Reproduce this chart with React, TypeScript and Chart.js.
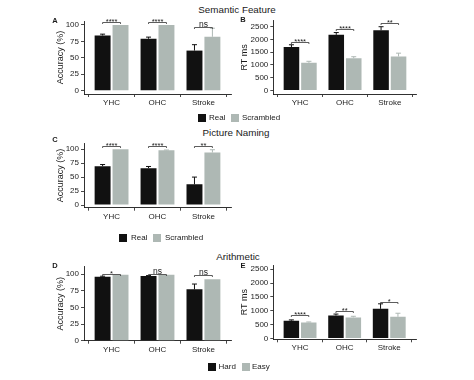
import React, { useEffect, useRef } from "react";
import { Chart, registerables } from "chart.js";
Chart.register(...registerables);

const FONT = '"Liberation Sans", Arial, Helvetica, sans-serif';
Chart.defaults.font.family = FONT;

const groups = ["YHC", "OHC", "Stroke"];
const accTicks = [0, 25, 50, 75, 100];
const rtTicks = [0, 500, 1000, 1500, 2000, 2500];

// A – Semantic Feature accuracy
const semAccReal = [84, 79, 61];
const semAccRealErr = [2, 2.5, 9];
const semAccScr = [100, 100, 82];
const semAccScrErr = [0, 0, 13];
const semAccSig = ["****", "****", "ns"];
const semAccSigY = [104, 104, 97];
// B – Semantic Feature RT
const semRtReal = [1700, 2180, 2360];
const semRtRealErr = [90, 90, 140];
const semRtScr = [1080, 1260, 1330];
const semRtScrErr = [60, 60, 130];
const semRtSig = ["****", "****", "**"];
const semRtSigY = [1910, 2400, 2630];
// C – Picture Naming accuracy
const picAccReal = [69.5, 66, 37];
const picAccRealErr = [3, 3, 13];
const picAccScr = [100, 98, 94];
const picAccScrErr = [0, 0.5, 5];
const picAccSig = ["****", "****", "**"];
const picAccSigY = [106.5, 106.5, 105];
// D – Arithmetic accuracy
const ariAccHard = [96, 97, 77];
const ariAccHardErr = [0.7, 0.7, 8];
const ariAccEasy = [99, 99, 92];
const ariAccEasyErr = [0, 0, 0];
const ariAccSig = ["*", "ns", "ns"];
const ariAccSigY = [100.5, 100.5, 98.5];
// E – Arithmetic RT
const ariRtHard = [640, 830, 1070];
const ariRtHardErr = [30, 50, 180];
const ariRtEasy = [580, 760, 780];
const ariRtEasyErr = [15, 40, 130];
const ariRtSig = ["****", "**", "*"];
const ariRtSigY = [840, 1000, 1310];

const DARK = "#111111";
const GRAY = "#aeb8b4";
const AXIS = "#1a1a1a";
const TXT = "#1e1e1e";

type PanelProps = {
  left: number; top: number; width: number; height: number;
  area: { l: number; t: number; r: number; b: number };
  yMin: number; yMax: number; yTicks: number[]; yTitle: string; titlePad: number;
  a: number[]; aErr: number[]; b: number[]; bErr: number[];
  sig: string[]; sigY: number[];
};

function Panel(p: PanelProps) {
  const ref = useRef<HTMLCanvasElement | null>(null);
  useEffect(() => {
    if (!ref.current) return;
    const vals = [p.a, p.b];
    const errs = [p.aErr, p.bErr];
    const colors = [DARK, GRAY];
    const overlay = {
      id: "overlay",
      afterDatasetsDraw(chart: any) {
        const ctx = chart.ctx;
        const ys = chart.scales.y;
        const metas = [chart.getDatasetMeta(0), chart.getDatasetMeta(1)];
        ctx.save();
        for (let d = 0; d < 2; d++) {
          metas[d].data.forEach((el: any, i: number) => {
            const e = errs[d][i];
            if (!e) return;
            const yTop = ys.getPixelForValue(vals[d][i] + e);
            ctx.strokeStyle = colors[d];
            ctx.lineWidth = 1;
            ctx.beginPath();
            ctx.moveTo(el.x, el.y);
            ctx.lineTo(el.x, yTop);
            ctx.moveTo(el.x - 2.5, yTop);
            ctx.lineTo(el.x + 2.5, yTop);
            ctx.stroke();
          });
        }
        for (let i = 0; i < groups.length; i++) {
          const x1 = metas[0].data[i].x;
          const x2 = metas[1].data[i].x;
          const y = Math.round(ys.getPixelForValue(p.sigY[i])) + 0.5;
          ctx.strokeStyle = "#333";
          ctx.lineWidth = 0.8;
          ctx.beginPath();
          ctx.moveTo(x1, y + 1.5);
          ctx.lineTo(x1, y);
          ctx.lineTo(x2, y);
          ctx.lineTo(x2, y + 1.5);
          ctx.stroke();
          const s = p.sig[i];
          const stars = s.indexOf("*") >= 0;
          ctx.fillStyle = "#222";
          ctx.textAlign = "center";
          ctx.textBaseline = "alphabetic";
          ctx.font = (stars ? "7.5px " : "8.5px ") + FONT;
          ctx.fillText(s, (x1 + x2) / 2, stars ? y + 1.8 : y - 1);
        }
        ctx.restore();
      },
    };
    const tickFont = { size: 8, family: FONT };
    const chart = new Chart(ref.current, {
      type: "bar",
      data: {
        datasets: [
          { data: groups.map((_, i) => ({ x: i + 1, y: p.a[i] })), backgroundColor: DARK, borderWidth: 0 },
          { data: groups.map((_, i) => ({ x: i + 1, y: p.b[i] })), backgroundColor: GRAY, borderWidth: 0 },
        ],
      } as any,
      options: {
        animation: false,
        responsive: false,
        maintainAspectRatio: false,
        events: [],
        layout: { padding: { left: 0, top: p.area.t, right: p.width - p.area.r, bottom: 0 } },
        plugins: { legend: { display: false }, tooltip: { enabled: false } },
        datasets: { bar: { categoryPercentage: 0.78, barPercentage: 0.89 } },
        scales: {
          x: {
            type: "linear",
            min: 0.4,
            max: 3.6,
            offset: false,
            afterBuildTicks: (s: any) => { s.ticks = groups.map((_, i) => ({ value: i + 1 })); },
            afterFit: (s: any) => { s.height = p.height - p.area.b; },
            ticks: {
              callback: (_v: any, i: number) => groups[i],
              autoSkip: false, maxRotation: 0, minRotation: 0, padding: 1, color: TXT, font: tickFont,
            },
            grid: { display: true, drawOnChartArea: false, drawTicks: true, tickLength: 3, color: AXIS, lineWidth: 0.8 },
            border: { display: true, color: AXIS, width: 0.9 },
          },
          y: {
            type: "linear",
            min: p.yMin,
            max: p.yMax,
            afterBuildTicks: (s: any) => { s.ticks = p.yTicks.map((v) => ({ value: v })); },
            afterFit: (s: any) => { s.width = p.area.l; },
            ticks: {
              callback: (_v: any, i: number) => String(p.yTicks[i]),
              autoSkip: false, padding: 2, color: TXT, font: tickFont,
            },
            title: { display: true, text: p.yTitle, color: "#1a1a1a", font: { size: 9, family: FONT }, padding: { top: p.titlePad, bottom: 0 } },
            grid: { display: true, drawOnChartArea: false, drawTicks: true, tickLength: 3, color: AXIS, lineWidth: 0.8 },
            border: { display: true, color: AXIS, width: 0.9 },
          },
        },
      } as any,
      plugins: [overlay],
    });
    return () => chart.destroy();
  }, []);
  return (
    <canvas
      ref={ref}
      width={p.width}
      height={p.height}
      style={{ position: "absolute", left: p.left, top: p.top, width: p.width, height: p.height }}
    />
  );
}

function Txt(props: { x: number; y: number; size: number; bold?: boolean; children: any; anchor?: string }) {
  const tr = props.anchor === "left" ? "translate(0,-50%)" : "translate(-50%,-50%)";
  return (
    <div
      style={{
        position: "absolute", left: props.x, top: props.y, transform: tr, fontSize: props.size,
        fontWeight: props.bold ? 700 : 400, whiteSpace: "nowrap", lineHeight: 1, color: "#1a1a1a",
      }}
    >
      {props.children}
    </div>
  );
}

function Sq(props: { x: number; y: number; color: string }) {
  return <div style={{ position: "absolute", left: props.x, top: props.y - 4, width: 8, height: 8, background: props.color }} />;
}

export default function App() {
  return (
    <div style={{ position: "fixed", left: 0, top: 0, width: 474, height: 380, background: "#fff", fontFamily: FONT, overflow: "hidden" }}>
      <Txt x={237} y={10} size={9.8}>Semantic Feature</Txt>
      <Txt x={236} y={133} size={9.8}>Picture Naming</Txt>
      <Txt x={238} y={256.5} size={9.8}>Arithmetic</Txt>

      <Panel left={0} top={0} width={240} height={108} area={{ l: 84, t: 21, r: 231, b: 94 }}
        yMin={-5} yMax={106} yTicks={accTicks} yTitle="Accuracy (%)" titlePad={55.5}
        a={semAccReal} aErr={semAccRealErr} b={semAccScr} bErr={semAccScrErr} sig={semAccSig} sigY={semAccSigY} />
      <Panel left={232} top={0} width={242} height={108} area={{ l: 41.3, t: 20.7, r: 184.7, b: 94 }}
        yMin={-145} yMax={2736} yTicks={rtTicks} yTitle="RT ms" titlePad={7.2}
        a={semRtReal} aErr={semRtRealErr} b={semRtScr} bErr={semRtScrErr} sig={semRtSig} sigY={semRtSigY} />
      <Panel left={0} top={125} width={240} height={100} area={{ l: 84, t: 18.3, r: 231, b: 82.7 }}
        yMin={-4.8} yMax={110.5} yTicks={accTicks} yTitle="Accuracy (%)" titlePad={55.5}
        a={picAccReal} aErr={picAccRealErr} b={picAccScr} bErr={picAccScrErr} sig={picAccSig} sigY={picAccSigY} />
      <Panel left={0} top={250} width={240} height={110} area={{ l: 84, t: 16.7, r: 231, b: 90.7 }}
        yMin={0} yMax={111} yTicks={accTicks} yTitle="Accuracy (%)" titlePad={55.5}
        a={ariAccHard} aErr={ariAccHardErr} b={ariAccEasy} bErr={ariAccEasyErr} sig={ariAccSig} sigY={ariAccSigY} />
      <Panel left={232} top={250} width={242} height={110} area={{ l: 41.3, t: 15, r: 184, b: 89.3 }}
        yMin={-30} yMax={2650} yTicks={rtTicks} yTitle="RT ms" titlePad={7.2}
        a={ariRtHard} aErr={ariRtHardErr} b={ariRtEasy} bErr={ariRtEasyErr} sig={ariRtSig} sigY={ariRtSigY} />

      <Txt x={55} y={21} size={7.5} bold>A</Txt>
      <Txt x={243} y={20} size={7.5} bold>B</Txt>
      <Txt x={55} y={140} size={7.5} bold>C</Txt>
      <Txt x={55} y={265.7} size={7.5} bold>D</Txt>
      <Txt x={243} y={265.7} size={7.5} bold>E</Txt>

      <Sq x={198} y={118} color={DARK} />
      <Txt x={209} y={118} size={8} anchor="left">Real</Txt>
      <Sq x={231} y={118} color={GRAY} />
      <Txt x={242} y={118} size={8} anchor="left">Scrambled</Txt>

      <Sq x={119} y={237.7} color={DARK} />
      <Txt x={131} y={237.7} size={8} anchor="left">Real</Txt>
      <Sq x={153} y={237.7} color={GRAY} />
      <Txt x={165} y={237.7} size={8} anchor="left">Scrambled</Txt>

      <Sq x={208} y={366.5} color={DARK} />
      <Txt x={218.5} y={366.5} size={8} anchor="left">Hard</Txt>
      <Sq x={241.5} y={366.5} color={GRAY} />
      <Txt x={252} y={366.5} size={8} anchor="left">Easy</Txt>
    </div>
  );
}
